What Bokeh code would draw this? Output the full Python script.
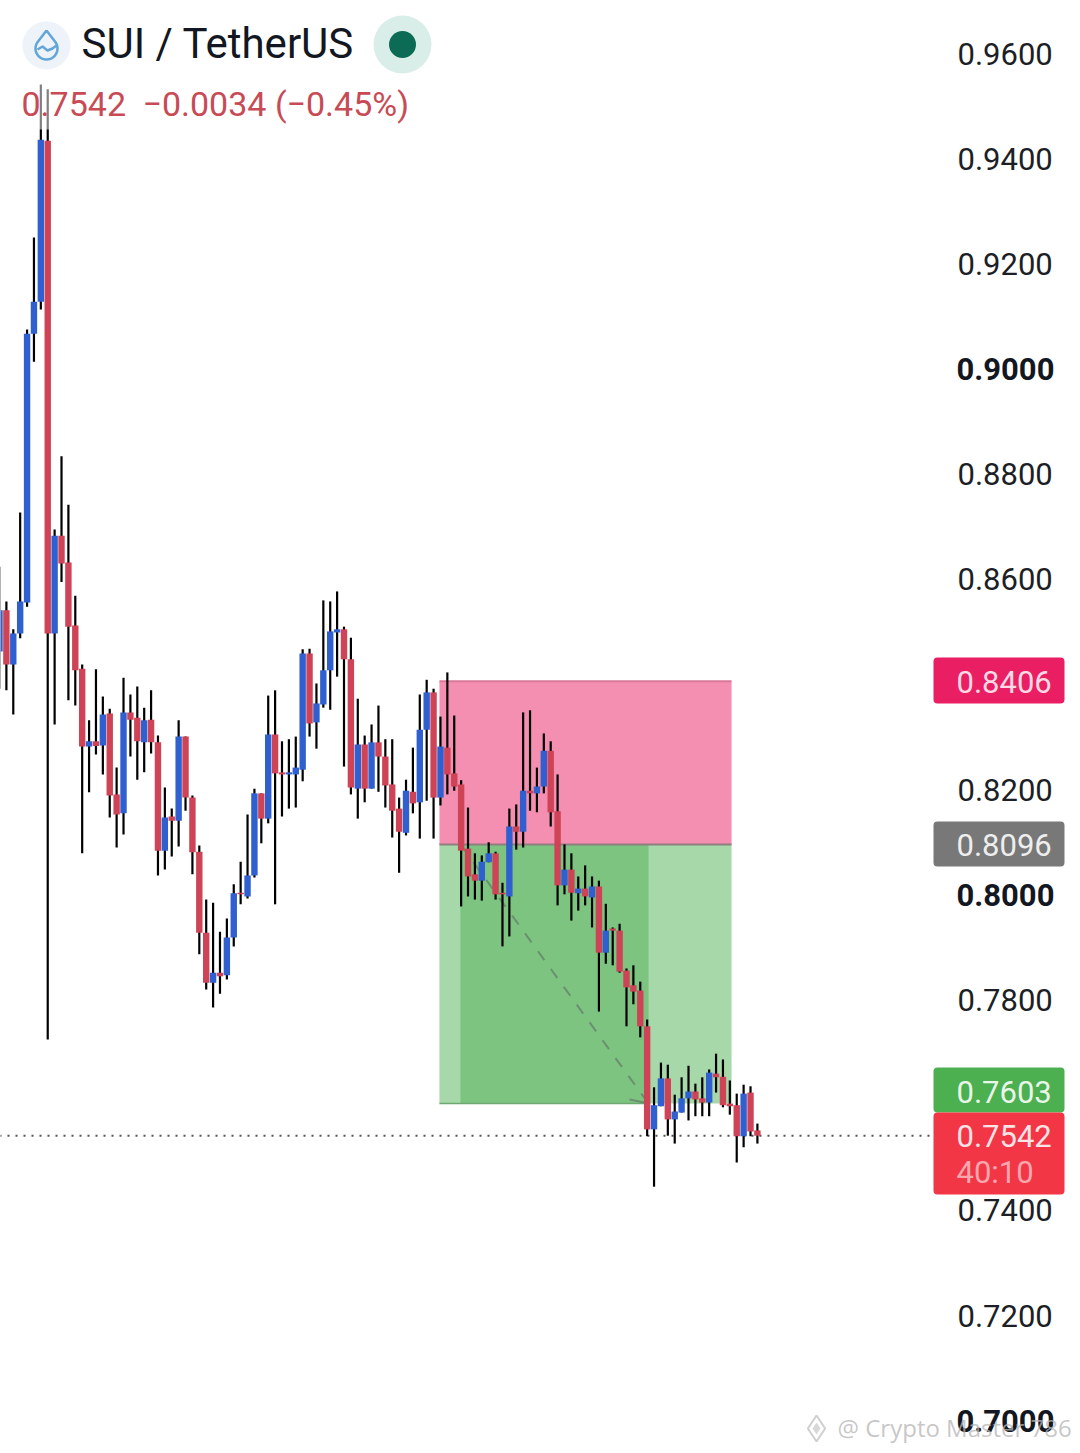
import numpy as np
from bokeh.plotting import figure
from bokeh.embed import file_html
from bokeh.resources import INLINE
from bokeh.models import Label, BoxAnnotation, FixedTicker, NumeralTickFormatter, ColumnDataSource

# ---------- data (price of each candle) ----------
opens = [.8463,.8541,.8438,.8497,.8556,.9067,.9128,.9434,.8497,.8683,.8632,.8512,.8430,.8282,.8292,.8284,.8345,.8191,.8155,.8347,
         .8337,.8290,.8333,.8290,.8084,.8149,.8141,.8301,.8185,.8082,.7928,.7833,.7852,.7847,.7919,.8004,.7997,.8037,.8193,.8145,
         .8305,.8233,.8229,.8229,.8238,.8459,.8328,.8362,.8427,.8499,.8505,.8448,.8202,.8286,.8202,.8290,.8263,.8210,.8164,.8118,
         .8196,.8176,.8314,.8385,.8185,.8280,.8231,.8210,.8088,.8039,.8027,.8062,.8079,.8004,.7997,.8130,.8120,.8198,.8193,.8206,
         .8274,.8159,.8018,.8048,.8003,.8012,.7995,.8016,.7890,.7936,.7932,.7856,.7828,.7818,.7750,.7554,.7598,.7651,.7573,.7586,
         .7613,.7626,.7613,.7605,.7660,.7654,.7603,.7600,.7541,.7624,.7552]
highs = [.8624,.8558,.8505,.8727,.9075,.9250,.9541,.9532,.8695,.8834,.8742,.8569,.8438,.8332,.8429,.8377,.8354,.8242,.8413,.8381,
         .8396,.8356,.8389,.8303,.8204,.8164,.8332,.8301,.8189,.8094,.7991,.7985,.7930,.7955,.8020,.8063,.8153,.8202,.8193,.8379,
         .8389,.8292,.8296,.8301,.8467,.8468,.8402,.8560,.8558,.8577,.8510,.8489,.8373,.8303,.8324,.8360,.8296,.8296,.8185,.8219,
         .8280,.8381,.8409,.8392,.8339,.8423,.8341,.8218,.8166,.8079,.8075,.8100,.8082,.8023,.8164,.8172,.8347,.8351,.8242,.8307,
         .8292,.8229,.8096,.8079,.8035,.8056,.8035,.8027,.7983,.7938,.7945,.7860,.7866,.7835,.7763,.7634,.7681,.7677,.7620,.7653,
         .7675,.7641,.7653,.7668,.7698,.7687,.7647,.7622,.7639,.7636,.7565]
lows = [.8392,.8389,.8343,.8488,.8548,.9014,.9113,.7725,.8324,.8595,.8370,.8360,.8079,.8195,.8267,.8229,.8147,.8090,.8115,.8263,
        .8219,.8233,.8269,.8037,.8048,.8073,.8092,.8160,.8039,.7887,.7820,.7786,.7812,.7839,.7902,.7982,.7993,.8033,.8098,.8136,
        .7982,.8149,.8164,.8166,.8216,.8301,.8278,.8356,.8352,.8415,.8244,.8191,.8145,.8176,.8202,.8196,.8166,.8109,.8042,.8113,
        .8155,.8107,.8179,.8107,.8170,.8191,.8198,.7978,.7997,.7991,.7989,.8062,.7991,.7902,.7921,.8086,.8090,.8160,.8157,.8193,
        .8130,.7980,.8001,.7951,.7970,.7980,.7938,.7778,.7869,.7866,.7852,.7750,.7792,.7729,.7541,.7445,.7598,.7542,.7527,.7586,
        .7571,.7579,.7579,.7579,.7624,.7596,.7582,.7491,.7520,.7541,.7527]
closes = [.8541,.8438,.8497,.8558,.9067,.9128,.9436,.8497,.8683,.8630,.8510,.8427,.8282,.8292,.8283,.8343,.8189,.8153,.8347,.8333,
          .8292,.8332,.8290,.8084,.8147,.8141,.8301,.8185,.8081,.7928,.7833,.7852,.7845,.7919,.8003,.8001,.8037,.8193,.8145,.8305,
          .8231,.8229,.8233,.8242,.8459,.8326,.8364,.8427,.8501,.8505,.8448,.8204,.8286,.8202,.8290,.8263,.8208,.8160,.8120,.8198,
          .8174,.8314,.8385,.8185,.8282,.8229,.8206,.8084,.8035,.8027,.8063,.8079,.8001,.8001,.8130,.8120,.8198,.8193,.8206,.8274,
          .8157,.8018,.8048,.8004,.8012,.7997,.8016,.7890,.7932,.7932,.7854,.7824,.7816,.7750,.7554,.7600,.7651,.7573,.7588,.7613,
          .7626,.7611,.7605,.7662,.7653,.7600,.7598,.7541,.7622,.7550,.7542]

axis_ticks = [.96,.94,.92,.88,.86,.82,.78,.74,.72]
bold_ticks = [.90,.80,.70]
stop_price, entry_price, target_price = .8406, .8096, .7603
last_price = .7542
zone_start, zone_end = 63.85, 106.25
fill_start, fill_end = 66.9, 94.2

# ---------- page <-> chart mapping ----------
STEP = 6.89
W, H = 1080, 1453
def X(px): return px / STEP
def Y(py): return .97027 - py * .00019017

p = figure(width=W, height=H, output_backend="svg", toolbar_location=None,
           x_range=(X(1), X(W + 1)), y_range=(Y(H + 1), Y(1)),
           x_axis_location=None, y_axis_location="right",
           min_border_left=0, min_border_top=0, min_border_bottom=0, min_border_right=0,
           outline_line_color=None, background_fill_color="white", border_fill_color="white")
p.grid.visible = False

ax = p.yaxis[0]
ax.ticker = FixedTicker(ticks=axis_ticks)
ax.formatter = NumeralTickFormatter(format="0.0000")
ax.axis_line_color = None
ax.major_tick_line_color = None
ax.minor_tick_line_color = None
ax.major_tick_out = 0
ax.major_tick_in = 0
ax.major_label_standoff = 957 - W
ax.major_label_text_font = "Roboto"
ax.major_label_text_font_size = "31px"
ax.major_label_text_color = "#1c1f26"

# trade zones
p.quad(left=[zone_start], right=[zone_end], top=[stop_price], bottom=[entry_price], fill_color="#f48fb1", line_color=None)
p.quad(left=[zone_start], right=[zone_end], top=[entry_price], bottom=[target_price], fill_color="#a7d8a9", line_color=None)
p.quad(left=[fill_start], right=[fill_end], top=[entry_price], bottom=[target_price], fill_color="#7cc47f", line_color=None)
p.segment([zone_start], [stop_price], [zone_end], [stop_price], line_color="#d9789a", line_width=2)
p.segment([zone_start], [entry_price], [zone_end], [entry_price], line_color="#8f7f80", line_width=2)
p.segment([zone_start], [target_price], [fill_end], [target_price], line_color="#6ca870", line_width=1.5)
p.segment([fill_start], [entry_price], [fill_end], [target_price], line_color="#6b8f6f", line_width=2, line_dash="11 11")
p.segment([X(630)], [Y(1100)], [X(645)], [Y(1103)], line_color="#6b8f6f", line_width=2)

# last price line
p.segment([X(0)], [last_price], [X(932)], [last_price], line_color="#555555", line_width=2, line_dash="2 6")

# candles
idx = np.arange(len(opens))
o, h, l, c = map(np.array, (opens, highs, lows, closes))
cols = np.where(c >= o, "#3060d0", "#cf4356")
src = ColumnDataSource(dict(x=idx, h=h, l=l, top=np.maximum(o, c), bot=np.minimum(o, c), color=cols))
p.segment(x0="x", y0="h", x1="x", y1="l", source=src, line_color="black", line_width=2.2)
p.vbar(x="x", top="top", bottom="bot", width=6.4 / STEP, source=src, fill_color="color", line_color=None)

# header veil over the wicks
p.add_layout(BoxAnnotation(left=X(0), right=X(420), top=Y(0), bottom=Y(130),
                           fill_color="white", fill_alpha=.5, line_color=None, level="annotation"))

# header icons
p.scatter([X(47), X(403)], [Y(46), Y(45)], size=[48, 58], marker="circle",
          fill_color=["#eef3f9", "#d9eee9"], line_color=None, level="overlay")
p.scatter([X(403)], [Y(45)], size=27, marker="circle", fill_color="#0b6b55", line_color=None, level="overlay")
t = np.linspace(-np.pi * .72, np.pi * .72, 40)
shape_x = [47] + list(47 + 11 * np.sin(t)) + [47]
shape_y = [31] + list(49 + 11 * np.cos(t)) + [31]
p.line([X(v) for v in shape_x], [Y(v) for v in shape_y], line_color="#62a5d8", line_width=2.5, level="overlay")
p.line([X(v) for v in [38, 43, 48, 53, 57]], [Y(v) for v in [50, 47, 51, 49, 46]], line_color="#62a5d8", line_width=2.5, level="overlay")

def label(text, px, price, size, color, style="normal", font="Roboto", alpha=1.0):
    p.add_layout(Label(x=X(px), y=price, text=text, text_font=font,
                       text_font_size=size, text_color=color, text_font_style=style, text_alpha=alpha,
                       text_align="left", text_baseline="middle", level="overlay"))

label("SUI / TetherUS", 82, Y(44), "42px", "#131722")
label("0.7542", 22, Y(104), "34px", "#c84a55")
label("\u22120.0034 (\u22120.45%)", 143, Y(104), "34px", "#c84a55")

# bold axis ticks
for v in bold_ticks:
    label(f"{v:.4f}", 957, v, "31px", "#131722", "bold")

# badges
def badge(y0, y1, color):
    p.add_layout(BoxAnnotation(left=X(934), right=X(1065), top=Y(y0), bottom=Y(y1), fill_color=color, fill_alpha=1,
                               line_color=None, border_radius=4, level="overlay"))

badge(658, 704, "#e91e63")
badge(822, 867, "#787878")
badge(1068, 1113, "#4caf50")
badge(1113, 1195, "#f23645")
label(f"{stop_price:.4f}", 957, Y(682), "31px", "#ffd9e4")
label(f"{entry_price:.4f}", 957, Y(845), "31px", "#eeeeee")
label(f"{target_price:.4f}", 957, Y(1092), "31px", "#e8f5e9")
label(f"{last_price:.4f}", 957, Y(1136), "31px", "#fde3e5")
label("40:10", 957, Y(1173), "31px", "#f9a6ae")

# watermark
p.scatter([X(817)], [Y(1429)], size=26, marker="diamond", fill_color=None, line_color="#cfcfcf", line_width=2, level="overlay")
p.scatter([X(817)], [Y(1429)], size=12, marker="diamond", fill_color="#d8d8d8", line_color=None, level="overlay")
label("@ Crypto Master 786", 838, Y(1428), "24px", "#b5b5b5", font="Open Sans", alpha=.75)

open("out.html", "w").write(file_html(p, INLINE))
